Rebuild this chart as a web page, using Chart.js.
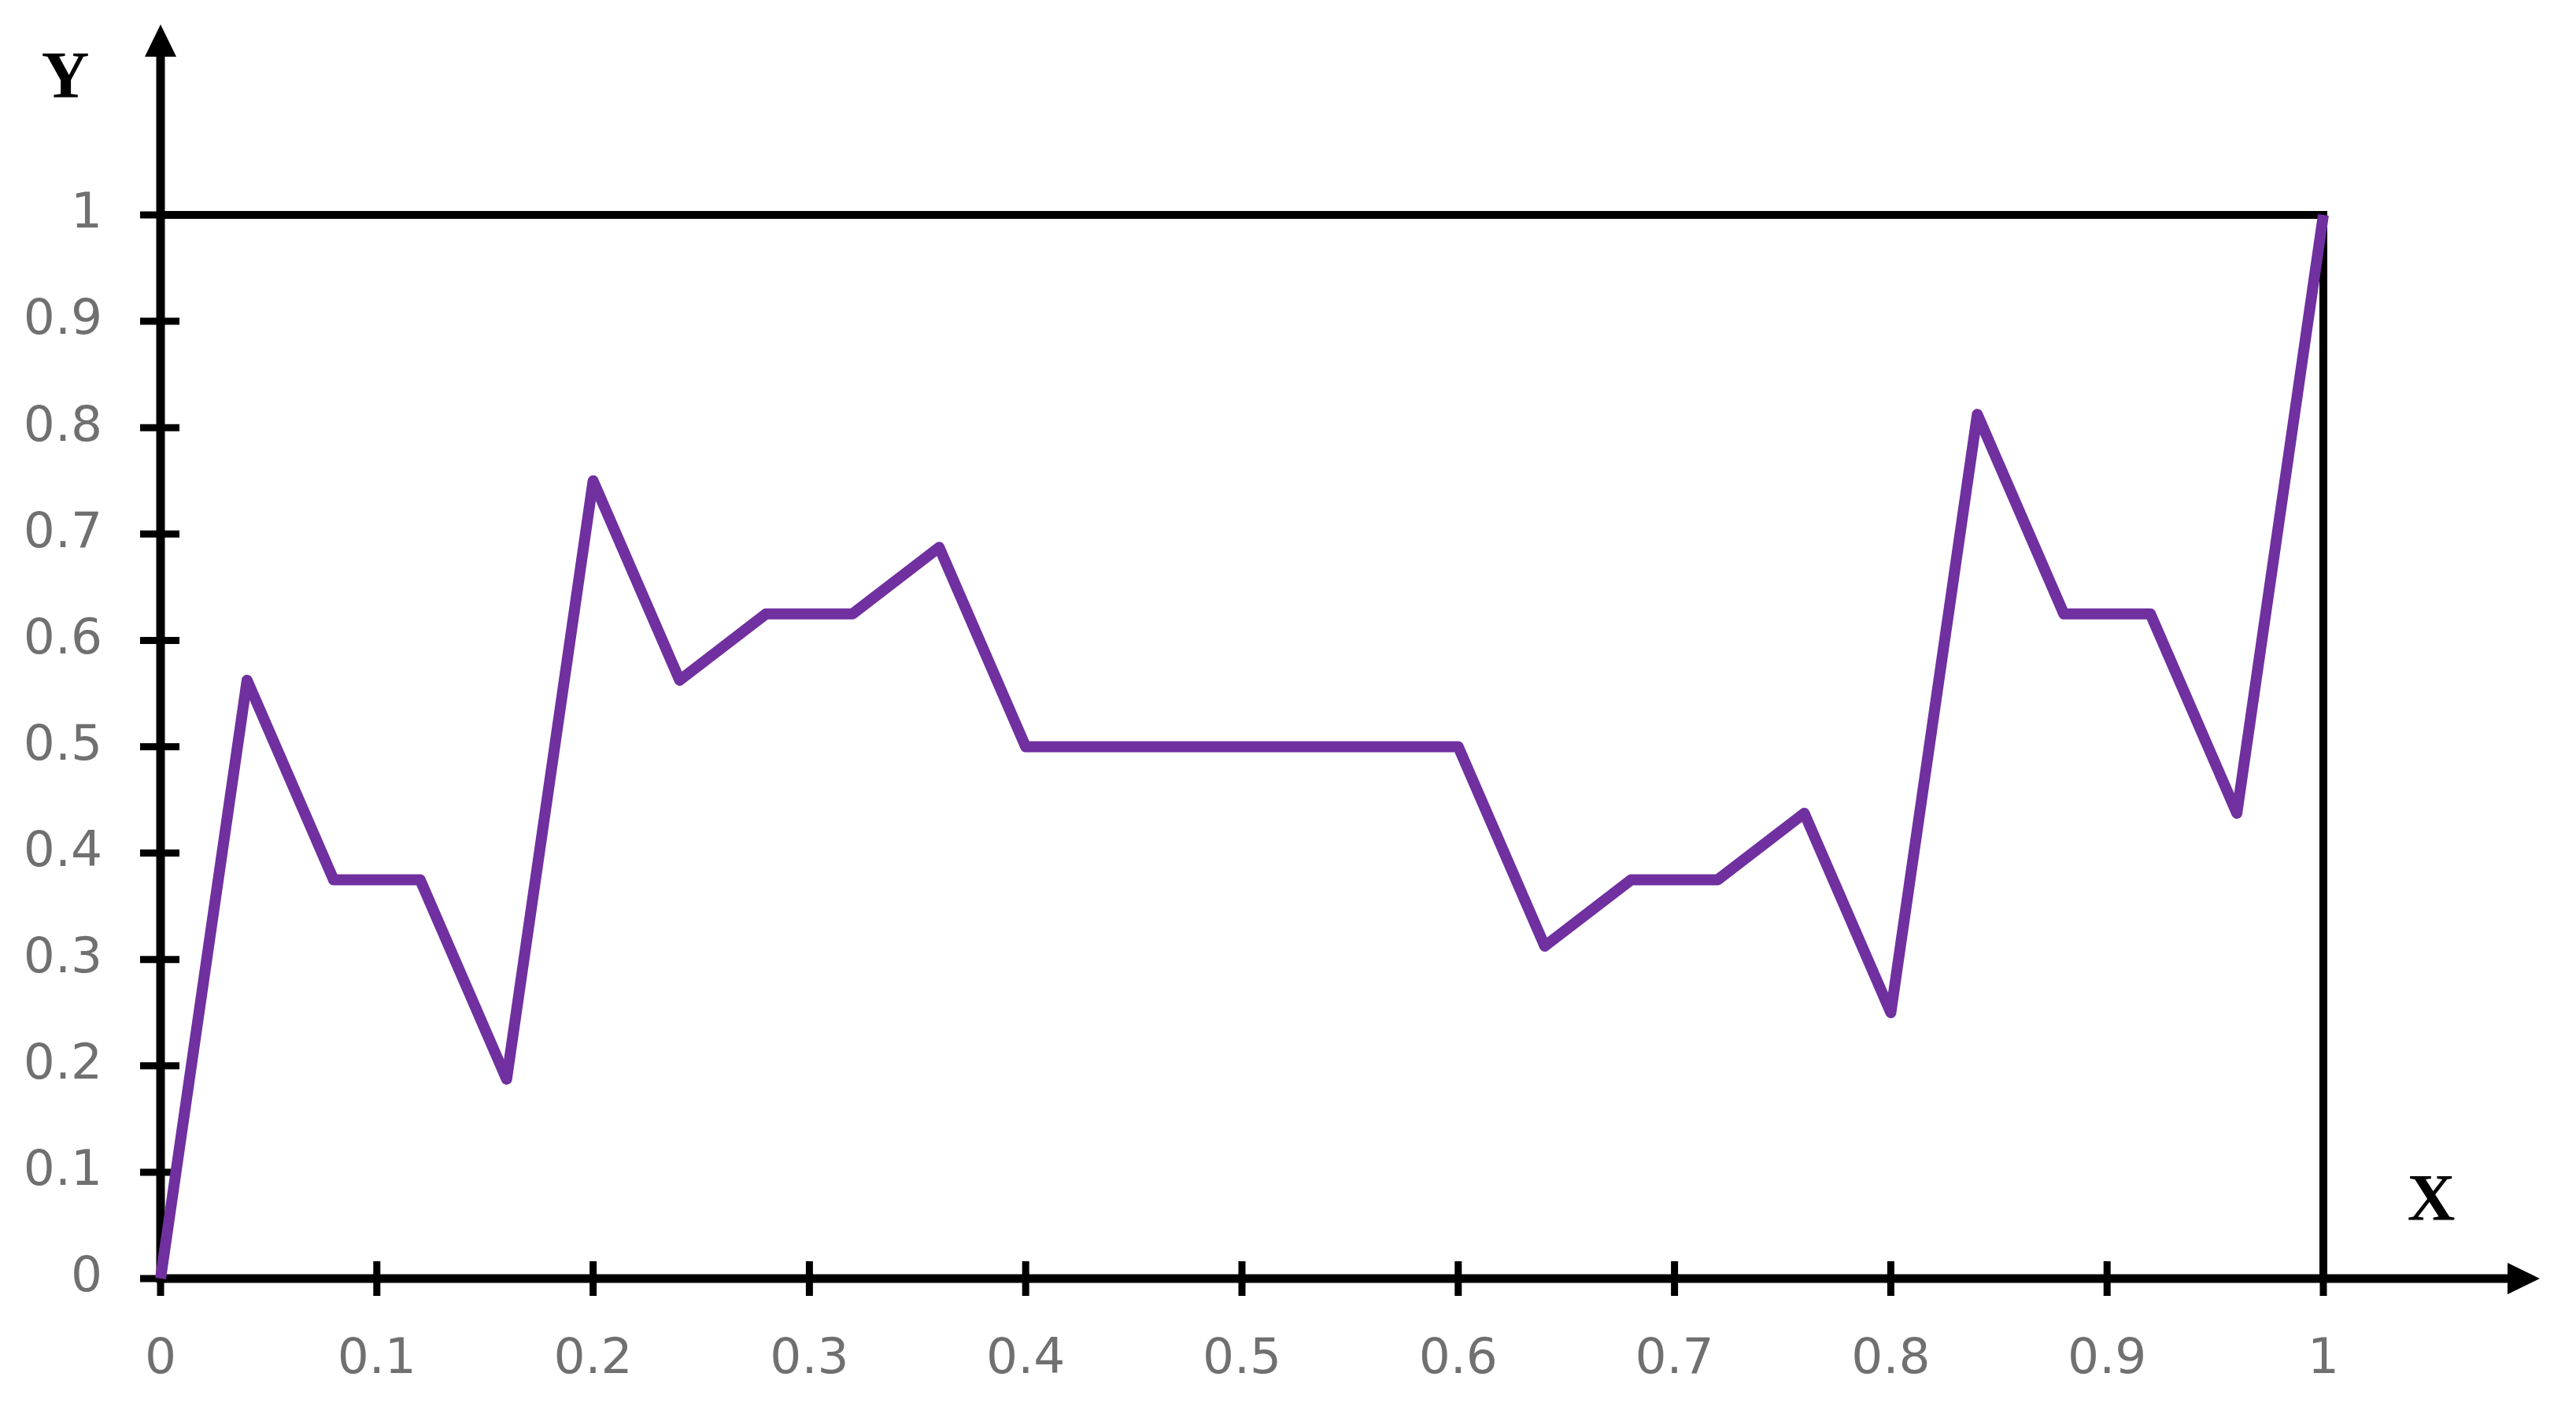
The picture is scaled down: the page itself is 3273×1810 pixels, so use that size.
<!DOCTYPE html>
<html>
<head>
<meta charset="utf-8">
<script src="https://cdn.jsdelivr.net/npm/chart.js@4/dist/chart.umd.min.js"></script>
<style>
html, body { margin: 0; padding: 0; background: #fff; }
</style>
</head>
<body>
<canvas id="chart" width="3273" height="1810"></canvas>
<script>
// data
const xValues = [0, 0.04, 0.08, 0.12, 0.16, 0.20, 0.24, 0.28, 0.32, 0.36, 0.40, 0.44, 0.48,
                 0.52, 0.56, 0.60, 0.64, 0.68, 0.72, 0.76, 0.80, 0.84, 0.88, 0.92, 0.96, 1];
const yValues = [0, 0.5625, 0.375, 0.375, 0.1875, 0.75, 0.5625, 0.625, 0.625, 0.6875, 0.5, 0.5, 0.5,
                 0.5, 0.5, 0.5, 0.3125, 0.375, 0.375, 0.4375, 0.25, 0.8125, 0.625, 0.625, 0.4375, 1];
const xTicks = [0, 0.1, 0.2, 0.3, 0.4, 0.5, 0.6, 0.7, 0.8, 0.9, 1];
const yTicks = [0, 0.1, 0.2, 0.3, 0.4, 0.5, 0.6, 0.7, 0.8, 0.9, 1];
const tickLabels = ['0', '0.1', '0.2', '0.3', '0.4', '0.5', '0.6', '0.7', '0.8', '0.9', '1'];

const tickFont = { family: '"DejaVu Sans", sans-serif', size: 63 };
const tickColor = '#707070';

// arrows, crossing tick marks, frame and axis names
const axesDecor = {
    id: 'axesDecor',
    beforeDatasetsDraw(chart) {
        const { ctx, scales: { x, y } } = chart;
        const x0 = x.getPixelForValue(0), x1 = x.getPixelForValue(1);
        const y0 = y.getPixelForValue(0), y1 = y.getPixelForValue(1);
        ctx.save();
        ctx.strokeStyle = '#000';
        ctx.fillStyle = '#000';
        ctx.lineCap = 'butt';

        // frame line at y=1 and x=1
        ctx.lineWidth = 10;
        ctx.beginPath();
        ctx.moveTo(x0, y1);
        ctx.lineTo(x1, y1);
        ctx.lineTo(x1, y0);
        ctx.stroke();

        // axes
        ctx.lineWidth = 11;
        ctx.beginPath();
        ctx.moveTo(x0, y0 + 5);
        ctx.lineTo(x0, 60);
        ctx.moveTo(x0 - 5, y0);
        ctx.lineTo(3195, y0);
        ctx.stroke();

        // arrowheads
        ctx.beginPath();
        ctx.moveTo(x0, 31);
        ctx.lineTo(x0 - 20, 72);
        ctx.lineTo(x0 + 20, 72);
        ctx.closePath();
        ctx.fill();
        ctx.beginPath();
        ctx.moveTo(3227, y0);
        ctx.lineTo(3186, y0 - 20);
        ctx.lineTo(3186, y0 + 20);
        ctx.closePath();
        ctx.fill();

        // tick marks crossing the axes
        ctx.lineWidth = 9;
        ctx.beginPath();
        xTicks.forEach(v => {
            const px = x.getPixelForValue(v);
            ctx.moveTo(px, y0 - 22);
            ctx.lineTo(px, y0 + 22);
        });
        yTicks.forEach(v => {
            const py = y.getPixelForValue(v);
            ctx.moveTo(x0 - 26, py);
            ctx.lineTo(x0 + 24, py);
        });
        ctx.stroke();

        // axis names
        ctx.font = 'bold 84px "Liberation Serif", serif';
        ctx.textAlign = 'center';
        ctx.textBaseline = 'middle';
        ctx.fillText('Y', 83, 102);
        ctx.fillText('X', 3089, 1528);
        ctx.restore();
    }
};

new Chart(document.getElementById('chart'), {
    type: 'scatter',
    data: {
        datasets: [{
            data: xValues.map((v, i) => ({ x: v, y: yValues[i] })),
            showLine: true,
            borderColor: '#7030A0',
            borderWidth: 14,
            borderJoinStyle: 'round',
            pointRadius: 0,
            tension: 0,
            clip: false
        }]
    },
    options: {
        responsive: false,
        animation: false,
        layout: { padding: { top: 273, right: 321, left: 0, bottom: 0 } },
        plugins: { legend: { display: false }, tooltip: { enabled: false } },
        scales: {
            x: {
                type: 'linear',
                min: 0,
                max: 1,
                afterBuildTicks: axis => { axis.ticks = xTicks.map(v => ({ value: v })); },
                afterFit: axis => { axis.height = 186; },
                grid: { display: false, drawTicks: false },
                border: { display: false },
                ticks: {
                    color: tickColor, font: tickFont, padding: 66, maxRotation: 0, autoSkip: false,
                    callback: (v, i) => tickLabels[i]
                }
            },
            y: {
                type: 'linear',
                min: 0,
                max: 1,
                afterBuildTicks: axis => { axis.ticks = yTicks.map(v => ({ value: v })); },
                afterFit: axis => { axis.width = 204; },
                grid: { display: false, drawTicks: false },
                border: { display: false },
                ticks: {
                    color: tickColor, font: tickFont, padding: 74, autoSkip: false,
                    callback: (v, i) => tickLabels[i]
                }
            }
        }
    },
    plugins: [axesDecor]
});
</script>
</body>
</html>
